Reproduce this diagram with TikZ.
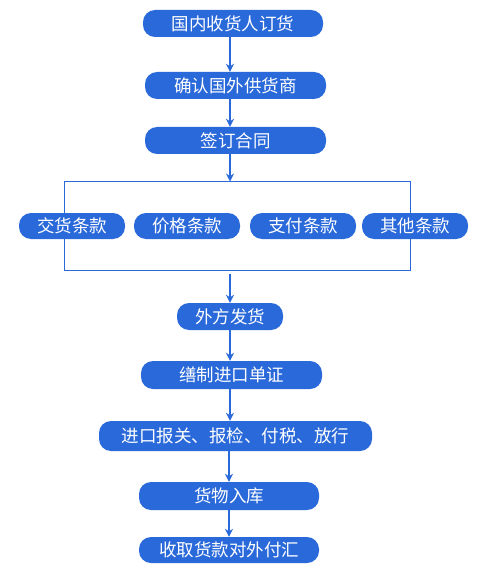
\documentclass[tikz,border=0pt]{standalone}
\usepackage{fontspec}
\newfontfamily\cjk{Noto Sans CJK SC}
\usetikzlibrary{arrows.meta}

\definecolor{flowblue}{RGB}{42,105,217}

\begin{document}
\begin{tikzpicture}[x=1pt,y=-1pt]

% Define styles
\tikzstyle{stage}=[fill=flowblue, text=white, rounded corners=12pt, inner sep=0pt,
  minimum height=27pt, font=\cjk\fontsize{17.5}{19}\selectfont]
\tikzstyle{term}=[stage, minimum width=106pt, minimum height=26pt]
\tikzstyle{flow}=[draw=flowblue, line width=1.7pt, -{Stealth[length=8pt,width=8pt]}]
\tikzstyle{frame}=[draw=flowblue, line width=1pt, inner sep=0pt]

\useasboundingbox (0,0) rectangle (482,569);

% Frame round the terms
\node[frame, minimum width=346pt, minimum height=88pt] (box) at (237,226) {};

% Main stages
\node[stage, minimum width=180pt] (order) at (233,23.5) {国内收货人订货};
\node[stage, minimum width=181pt] (supplier) at (235.5,85.5) {确认国外供货商};
\node[stage, minimum width=181pt] (contract) at (235.5,140.5) {签订合同};
\node[stage, minimum width=106pt] (ship) at (230,316.5) {外方发货};
\node[stage, minimum width=181pt, minimum height=28pt] (docs) at (231.5,375) {缮制进口单证};
\node[stage, minimum width=273pt, minimum height=30pt] (customs) at (235.5,436) {进口报关、报检、付税、放行};
\node[stage, minimum width=180pt, minimum height=28pt] (store) at (229,496) {货物入库};
\node[stage, minimum width=180pt, minimum height=26pt] (pay) at (229,550) {收取货款对外付汇};

% Contract terms
\foreach \name/\x/\text in {delivery/72/交货条款, price/187/价格条款, payment/303/支付条款, other/415/其他条款} {
  \node[term] (\name) at (\x,226) {\text};
}

% Connectors
\coordinate (spine) at (230,0);
\draw[flow] (order.south -| spine) -- (supplier.north -| spine);
\draw[flow] (supplier.south -| spine) -- (contract.north -| spine);
\draw[flow] (contract.south -| spine) -- (box.north -| spine);
\draw[flow] ([yshift=-3pt]ship.north |- box.south) -- (ship.north);
\draw[flow] (ship.south) -- (ship.south |- docs.north);
\draw[flow] (docs.south -| ship) -- (customs.north -| ship);
\draw[flow] (customs.south -| store) -- (store.north);
\draw[flow] (store.south) -- (pay.north);

\end{tikzpicture}
\end{document}
